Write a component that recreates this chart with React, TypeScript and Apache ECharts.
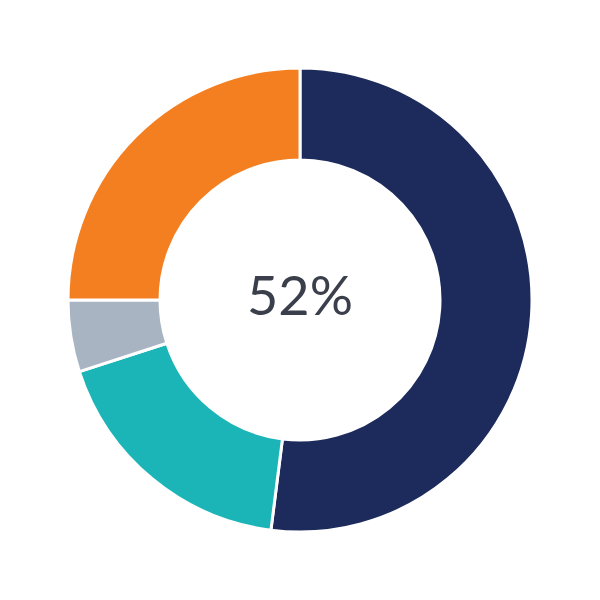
import { useEffect, useRef } from 'react'
import * as echarts from 'echarts'

const SEGMENT_NAMES = ['Navy', 'Teal', 'Gray', 'Orange']
const SEGMENT_VALUES = [52, 18, 5, 25]
const SEGMENT_COLORS = ['#1c2b5b', '#1bb5b8', '#a9b4c2', '#f47f20']
const CENTER_LABEL = '52%'

export default function App() {
  const chartRef = useRef<HTMLDivElement>(null)

  useEffect(() => {
    if (!chartRef.current) return
    const chart = echarts.init(chartRef.current, undefined, { renderer: 'svg' })

    const option: echarts.EChartsOption = {
      animation: false,
      backgroundColor: '#ffffff',
      graphic: [
        {
          type: 'text',
          x: 300,
          y: 294,
          style: {
            text: CENTER_LABEL,
            align: 'center',
            verticalAlign: 'middle',
            fill: '#3a3f4b',
            fontSize: 54,
            fontWeight: 'normal',
            fontFamily: 'Lato, sans-serif',
          },
        },
      ],
      series: [
        {
          type: 'pie',
          center: [300, 300],
          radius: [140, 232],
          startAngle: 90,
          clockwise: true,
          label: { show: false },
          labelLine: { show: false },
          itemStyle: { borderColor: '#ffffff', borderWidth: 3 },
          emphasis: { disabled: true },
          data: SEGMENT_NAMES.map((name, i) => ({
            name,
            value: SEGMENT_VALUES[i],
            itemStyle: { color: SEGMENT_COLORS[i] },
          })),
        },
      ],
    }

    chart.setOption(option)
    return () => chart.dispose()
  }, [])

  return (
    <div
      ref={chartRef}
      style={{ position: 'fixed', top: 0, left: 0, width: '600px', height: '600px' }}
    />
  )
}
